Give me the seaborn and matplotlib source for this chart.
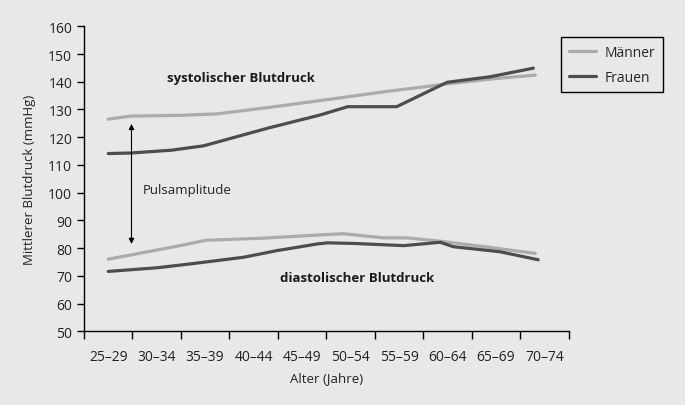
import numpy as np
import pandas as pd
import matplotlib
matplotlib.use("Agg")
import matplotlib.pyplot as plt
import seaborn as sns

# Altersgruppen (Kategorien auf der x-Achse)
altersgruppen = ["25–29", "30–34", "35–39", "40–44", "45–49",
                 "50–54", "55–59", "60–64", "65–69", "70–74"]

# Kurvenverlauf, x in Einheiten der Altersgruppe (0 = 25–29)
maenner_sys_x = [0.0, 0.46, 1.5, 2.24, 3.3, 4.37, 5.7, 6.99, 7.9, 8.81]
maenner_sys_y = [126.5, 127.6, 127.9, 128.4, 130.7, 133.2, 136.4, 139.2, 141.0, 142.4]

frauen_sys_x = [0.0, 0.46, 1.3, 1.97, 2.24, 3.3, 4.37, 4.94, 5.95, 6.99, 7.88, 8.77]
frauen_sys_y = [114.1, 114.3, 115.3, 116.9, 118.2, 123.3, 128.0, 131.0, 131.0, 139.8, 141.8, 144.9]

maenner_dia_x = [0.0, 1.21, 1.6, 2.0, 3.2, 4.52, 4.85, 5.68, 6.16, 6.85, 7.9, 8.81]
maenner_dia_y = [76.0, 80.0, 81.3, 82.8, 83.6, 84.9, 85.2, 83.7, 83.7, 82.5, 80.2, 78.1]

frauen_dia_x = [0.0, 1.0, 1.69, 2.79, 3.48, 4.31, 4.52, 5.05, 6.09, 6.85, 7.12, 8.08, 8.87]
frauen_dia_y = [71.6, 72.9, 74.3, 76.7, 79.1, 81.5, 81.9, 81.7, 80.9, 82.1, 80.5, 78.7, 75.8]

grau_hell = "#ababab"
grau_dunkel = "#4d4d4d"
hintergrund = "#e8e8e8"

sns.set_theme(style="ticks")
plt.rcParams["font.family"] = ["Open Sans", "DejaVu Sans"]
plt.rcParams["font.size"] = 9.5

fig = plt.figure(figsize=(6.85, 4.06), dpi=100, facecolor=hintergrund)
ax = fig.add_axes([0.1226, 0.1815, 0.7077, 0.7513])
ax.set_facecolor(hintergrund)

def kurve(x, y, farbe, label=None):
    df = pd.DataFrame({"x": x, "y": y})
    sns.lineplot(data=df, x="x", y="y", color=farbe, lw=2.3, sort=False,
                 estimator=None, ax=ax, label=label, legend=False)

kurve(maenner_sys_x, maenner_sys_y, grau_hell, "Männer")
kurve(maenner_dia_x, maenner_dia_y, grau_hell)
kurve(frauen_sys_x, frauen_sys_y, grau_dunkel, "Frauen")
kurve(frauen_dia_x, frauen_dia_y, grau_dunkel)

ax.set_xlim(-0.5, len(altersgruppen) - 0.5)
ax.set_ylim(50, 160)
ax.set_yticks(np.arange(50, 161, 10))
ax.set_xticks(np.arange(len(altersgruppen) + 1) - 0.5)
ax.set_xticklabels([])
ax.set_xticks(np.arange(len(altersgruppen)), minor=True)
ax.set_xticklabels(altersgruppen, minor=True)
ax.tick_params(axis="x", which="major", length=6, width=1, color="black")
ax.tick_params(axis="x", which="minor", length=0, pad=13, labelsize=10, labelcolor="#222222")
ax.tick_params(axis="y", length=5, width=1, color="black", labelsize=10, labelcolor="#222222")
for s in ["top", "right"]:
    ax.spines[s].set_visible(False)
for s in ["left", "bottom"]:
    ax.spines[s].set_color("black")
    ax.spines[s].set_linewidth(1)

ax.set_xlabel("Alter (Jahre)", fontsize=9.5, color="#222222", labelpad=5)
ax.set_ylabel("Mittlerer Blutdruck (mmHg)", fontsize=9.5, color="#222222", labelpad=9)

# Beschriftungen im Diagramm
ax.text(2.74, 141.6, "systolischer Blutdruck", ha="center", va="center",
        fontsize=9.5, fontweight="bold", color="#1a1a1a")
ax.text(5.14, 69.5, "diastolischer Blutdruck", ha="center", va="center",
        fontsize=9.5, fontweight="bold", color="#1a1a1a")
ax.text(0.72, 101.1, "Pulsamplitude", ha="left", va="center",
        fontsize=9.5, color="#222222")
ax.annotate("", xy=(0.48, 124.8), xytext=(0.48, 81.5),
            arrowprops=dict(arrowstyle="<|-|>", color="black", lw=0.8,
                            mutation_scale=8, shrinkA=0, shrinkB=0))

leg = ax.legend(loc="upper left", bbox_to_anchor=(0.819, 0.906),
                bbox_transform=fig.transFigure, borderaxespad=0, frameon=True,
                fancybox=False, facecolor=hintergrund, edgecolor="black",
                fontsize=10, handlelength=2.0, handletextpad=0.6,
                borderpad=0.55, labelspacing=0.7, framealpha=1)
leg.get_frame().set_linewidth(1)

fig.savefig("out.png", dpi=100, facecolor=hintergrund)
